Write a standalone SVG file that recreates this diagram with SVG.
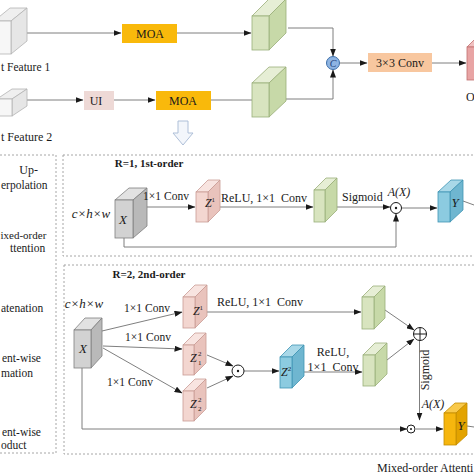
<svg xmlns="http://www.w3.org/2000/svg" width="474" height="474" viewBox="0 0 474 474" font-family="'Liberation Serif', 'Times New Roman', serif">
<defs>
<marker id="ah" markerWidth="8" markerHeight="6" refX="7.5" refY="3" orient="auto" markerUnits="userSpaceOnUse"><path d="M0,0 L8,3 L0,6 z" fill="#1a1a1a"/></marker>
<style>
text{font-family:"Liberation Serif","Times New Roman",serif;font-size:12px;fill:#1a1a1a}
.it{font-style:italic}
.b{font-weight:bold;font-size:11px}
.s{font-size:11.5px}
.m{text-anchor:middle}
.e{text-anchor:end}
.lg{font-size:11.5px}
.ln{fill:none;stroke:#7f7f7f;stroke-width:1}
.ar{marker-end:url(#ah)}
.dash{fill:none;stroke:#a6a6a6;stroke-width:1;stroke-dasharray:2,2}
.wf{fill:#f7f7f7;stroke:#b3b3b3;stroke-width:0.8}
.ws{fill:#e6e6e6;stroke:#b3b3b3;stroke-width:0.8}
.wt{fill:#efefef;stroke:#b3b3b3;stroke-width:0.8}
.gf{fill:#d8e4bf;stroke:#9aaf7a;stroke-width:0.8}
.gs{fill:#c7d9a8;stroke:#9aaf7a;stroke-width:0.8}
.gt{fill:#e6eed5;stroke:#9aaf7a;stroke-width:0.8}
.xf{fill:#d2d2d2;stroke:#7f7f7f;stroke-width:0.8}
.xs{fill:#b9b9b9;stroke:#7f7f7f;stroke-width:0.8}
.xt{fill:#e2e2e2;stroke:#7f7f7f;stroke-width:0.8}
.pf{fill:#f3d6d0;stroke:#c99c95;stroke-width:0.8}
.ps{fill:#e9c3bc;stroke:#c99c95;stroke-width:0.8}
.pt{fill:#f8e4e0;stroke:#c99c95;stroke-width:0.8}
.bf{fill:#8ccbe0;stroke:#3f94b4;stroke-width:0.8}
.bs{fill:#6fb6d0;stroke:#3f94b4;stroke-width:0.8}
.bt{fill:#a9d8e8;stroke:#3f94b4;stroke-width:0.8}
.yf{fill:#f6b60e;stroke:#c48d00;stroke-width:0.8}
.ys{fill:#e3a300;stroke:#c48d00;stroke-width:0.8}
.yt{fill:#f9c94a;stroke:#c48d00;stroke-width:0.8}
.rf{fill:#e8a4a4;stroke:#c07070;stroke-width:0.8}
.rt{fill:#f0c0c0;stroke:#c07070;stroke-width:0.8}
.op{fill:#fff;stroke:#1a1a1a;stroke-width:1}
</style>
</defs>
<rect width="474" height="474" fill="#fff"/>

<!-- dashed panels -->
<g id="panels">
<path class="dash" d="M0,155 H56 V453 H0"/>
<rect class="dash" x="63" y="155" width="430" height="101"/>
<rect class="dash" x="64" y="265" width="430" height="189"/>
</g>

<!-- legend (as cropped in the picture) -->
<g id="legend">
<text class="e" x="38" y="174">Up-</text>
<text class="lg" x="1" y="189">erpolation</text>
<text x="0.5" y="239" style="font-size:11px">ixed-order</text>
<text class="lg" x="10" y="252">ttention</text>
<text class="lg" x="1" y="312">atenation</text>
<text class="lg" x="2" y="362">ent-wise</text>
<text class="lg" x="1" y="377">mation</text>
<text class="lg" x="2" y="436">ent-wise</text>
<text class="lg" x="1" y="449">oduct</text>
</g>

<!-- connectors -->
<g id="connectors">
<path class="ln ar" d="M27,33 H121"/>
<path class="ln ar" d="M177,33 H251"/>
<path class="ln ar" d="M288,28 H333 V56"/>
<path class="ln ar" d="M286,99 H333 V70"/>
<path class="ln ar" d="M340,63 H367"/>
<path class="ln ar" d="M432,63 H466"/>
<path class="ln ar" d="M27,100 H83"/>
<path class="ln ar" d="M114,100 H155"/>
<path class="ln" d="M211,100 H252"/>

<path class="ln ar" d="M147,207 H195"/>
<path class="ln ar" d="M220,207 H313"/>
<path class="ln ar" d="M337,207 H390"/>
<path class="ln ar" d="M124,238 V247 H396 V214"/>
<path class="ln ar" d="M402,208 H437"/>
<path class="ln" d="M463,201 L474,205"/>

<path class="ln ar" d="M102,331 L182,312"/>
<path class="ln ar" d="M103,346 L182,349"/>
<path class="ln ar" d="M103,348 L182,393"/>
<path class="ln ar" d="M207,312 H361"/>
<path class="ln ar" d="M207,355 L233,366"/>
<path class="ln ar" d="M207,388 L233,376"/>
<path class="ln ar" d="M244,371 H279"/>
<path class="ln ar" d="M304,372 H362"/>
<path class="ln ar" d="M385,310 L414,330"/>
<path class="ln ar" d="M387,360 L414,339"/>
<path class="ln ar" d="M419.5,341 V420"/>
<path class="ln ar" d="M82,368 V429 H407"/>
<path class="ln ar" d="M416,429 H443"/>
<path class="ln" d="M467,426 L474,427"/>
</g>

<!-- top row nodes -->
<g id="input1">
<polygon class="wt" points="-6,21 10,8 27,8 11,21"/>
<polygon class="ws" points="11,21 27,8 27,41 11,54"/>
<rect class="wf" x="-6" y="21" width="17" height="33"/>
<text class="lg" x="1" y="71">t Feature 1</text>
</g>
<g id="input2">
<polygon class="wt" points="-3,99 12,89 27,89 12,99"/>
<polygon class="ws" points="12,99 27,89 27,106 12,116"/>
<rect class="wf" x="-3" y="99" width="15" height="17"/>
<text x="1" y="141">t Feature 2</text>
</g>
<g id="moa1">
<rect x="122" y="24" width="55" height="19" fill="#f9b90b"/>
<text class="m" x="150" y="38">MOA</text>
</g>
<g id="ui">
<rect x="84" y="91" width="30" height="19" fill="#eed9d6"/>
<text class="m" x="96" y="105">UI</text>
</g>
<g id="moa2">
<rect x="156" y="91" width="55" height="19" fill="#f9b90b"/>
<text class="m" x="183" y="105">MOA</text>
</g>
<g id="green1">
<polygon class="gt" points="252,16 269,-1 286,-1 269,16"/>
<polygon class="gs" points="269,16 286,-1 286,33 269,50"/>
<rect class="gf" x="252" y="16" width="17" height="34"/>
</g>
<g id="green2">
<polygon class="gt" points="252,83 269,67 286,67 269,83"/>
<polygon class="gs" points="269,83 286,67 286,101 269,117"/>
<rect class="gf" x="252" y="83" width="17" height="34"/>
</g>
<g id="concat">
<circle cx="333" cy="63" r="6.5" fill="#8eb4e3" stroke="#3c6ea8" stroke-width="1"/>
<text class="m it" x="333" y="67" style="font-size:10px;fill:#1f3f7a">C</text>
</g>
<g id="conv3">
<rect x="368" y="53" width="64" height="19" fill="#f8c79f"/>
<text class="m" x="400" y="67">3×3 Conv</text>
</g>
<g id="output">
<polygon class="rt" points="467,47 481,33 495,33 481,47"/>
<rect class="rf" x="467" y="47" width="14" height="33"/>
<text x="466" y="101">O</text>
</g>
<g id="downarrow">
<polygon points="178,121 188,121 188,133 193,133 183,145 173,133 178,133" fill="#f3f6fb" stroke="#aebfd8" stroke-width="1"/>
</g>

<!-- R=1 -->
<g id="r1-title">
<text class="m b" x="149" y="167">R=1, 1st-order</text>
<text class="m it" x="91" y="218" style="font-size:13px">c×h×w</text>
</g>
<g id="r1-x">
<polygon class="xt" points="115,200 129,188 147,188 133,200"/>
<polygon class="xs" points="133,200 147,188 147,226 133,238"/>
<rect class="xf" x="115" y="200" width="18" height="38"/>
<text class="m it" x="123" y="224" style="font-size:13px">X</text>
</g>
<text class="m s" x="166" y="200">1×1 Conv</text>
<g id="r1-z1">
<polygon class="pt" points="196,192 208,180 220,180 208,192"/>
<polygon class="ps" points="208,192 220,180 220,210 208,222"/>
<rect class="pf" x="196" y="192" width="12" height="30"/>
<text class="m it" x="210" y="207">Z<tspan dy="-5" style="font-size:7px;font-style:normal">1</tspan></text>
</g>
<text x="221" y="202" xml:space="preserve">ReLU, 1×1  Conv</text>
<g id="r1-green">
<polygon class="gt" points="314,190 326,178 337,178 325,190"/>
<polygon class="gs" points="325,190 337,178 337,210 325,222"/>
<rect class="gf" x="314" y="190" width="11" height="32"/>
</g>
<text x="342" y="201">Sigmoid</text>
<g id="r1-prod">
<circle class="op" cx="396" cy="208" r="5.5"/>
<circle cx="396" cy="208" r="1.2" fill="#1a1a1a"/>
<text class="m it" x="399" y="196">A(X)</text>
</g>
<g id="r1-y">
<polygon class="bt" points="438,192 451,180 463,180 450,192"/>
<polygon class="bs" points="450,192 463,180 463,210 450,222"/>
<rect class="bf" x="438" y="192" width="12" height="30"/>
<text class="m it" x="455" y="207" style="font-size:13px">Y</text>
</g>

<!-- R=2 -->
<g id="r2-title">
<text class="m b" x="149" y="278">R=2, 2nd-order</text>
<text class="m it" x="84" y="308" style="font-size:13px">c×h×w</text>
</g>
<g id="r2-x">
<polygon class="xt" points="74,330 85,318 102,318 91,330"/>
<polygon class="xs" points="91,330 102,318 102,356 91,368"/>
<rect class="xf" x="74" y="330" width="17" height="38"/>
<text class="m it" x="83" y="353" style="font-size:13px">X</text>
</g>
<text class="m s" x="147" y="312">1×1 Conv</text>
<text class="m s" x="148" y="341">1×1 Conv</text>
<text class="m s" x="130" y="386">1×1 Conv</text>
<g id="r2-z1">
<polygon class="pt" points="183,297 195,285 207,285 195,297"/>
<polygon class="ps" points="195,297 207,285 207,316 195,328"/>
<rect class="pf" x="183" y="297" width="12" height="31"/>
<text class="m it" x="198" y="315">Z<tspan dy="-5" style="font-size:7px;font-style:normal">1</tspan></text>
</g>
<g id="r2-z21">
<polygon class="pt" points="183,345 195,333 206,333 194,345"/>
<polygon class="ps" points="194,345 206,333 206,363 194,375"/>
<rect class="pf" x="183" y="345" width="11" height="30"/>
<text class="it" x="190" y="362">Z</text>
<text x="198" y="356" style="font-size:7px">2</text>
<text x="198" y="365" style="font-size:7px">1</text>
</g>
<g id="r2-z22">
<polygon class="pt" points="183,391 195,379 206,379 194,391"/>
<polygon class="ps" points="194,391 206,379 206,409 194,421"/>
<rect class="pf" x="183" y="391" width="11" height="30"/>
<text class="it" x="190" y="408">Z</text>
<text x="198" y="402" style="font-size:7px">2</text>
<text x="198" y="411" style="font-size:7px">2</text>
</g>
<text x="217" y="306" xml:space="preserve">ReLU, 1×1  Conv</text>
<g id="r2-green1">
<polygon class="gt" points="362,297 373,286 385,286 374,297"/>
<polygon class="gs" points="374,297 385,286 385,318 374,329"/>
<rect class="gf" x="362" y="297" width="12" height="32"/>
</g>
<g id="r2-mul">
<circle class="op" cx="238" cy="371" r="6"/>
<circle cx="238" cy="371" r="1.2" fill="#1a1a1a"/>
</g>
<g id="r2-z2">
<polygon class="bt" points="280,357 292,345 304,345 292,357"/>
<polygon class="bs" points="292,357 304,345 304,376 292,388"/>
<rect class="bf" x="280" y="357" width="12" height="31"/>
<text class="it" x="281" y="376">Z<tspan dy="-5" style="font-size:7px;font-style:normal">2</tspan></text>
</g>
<text class="m" x="333" y="356">ReLU,</text>
<text class="m" x="333" y="371" xml:space="preserve">1×1  Conv</text>
<g id="r2-green2">
<polygon class="gt" points="363,355 375,343 387,343 375,355"/>
<polygon class="gs" points="375,355 387,343 387,374 375,386"/>
<rect class="gf" x="363" y="355" width="12" height="31"/>
</g>
<g id="r2-sum">
<circle class="op" cx="420" cy="334" r="6.5"/>
<path d="M413.5,334 H426.5 M420,327.5 V340.5" stroke="#1a1a1a" stroke-width="1"/>
</g>
<text class="m" transform="translate(429,370) rotate(-90)">Sigmoid</text>
<text class="m it" x="433" y="408">A(X)</text>
<g id="r2-prod">
<circle class="op" cx="411" cy="429" r="4"/>
<circle cx="411" cy="429" r="1" fill="#1a1a1a"/>
</g>
<g id="r2-y">
<polygon class="yt" points="444,413 455,403 467,403 456,413"/>
<polygon class="ys" points="456,413 467,403 467,435 456,445"/>
<rect class="yf" x="444" y="413" width="12" height="32"/>
<text class="m it" x="461" y="430" style="font-size:13px">Y</text>
</g>
<text x="377" y="472">Mixed-order Attenti</text>
</svg>
